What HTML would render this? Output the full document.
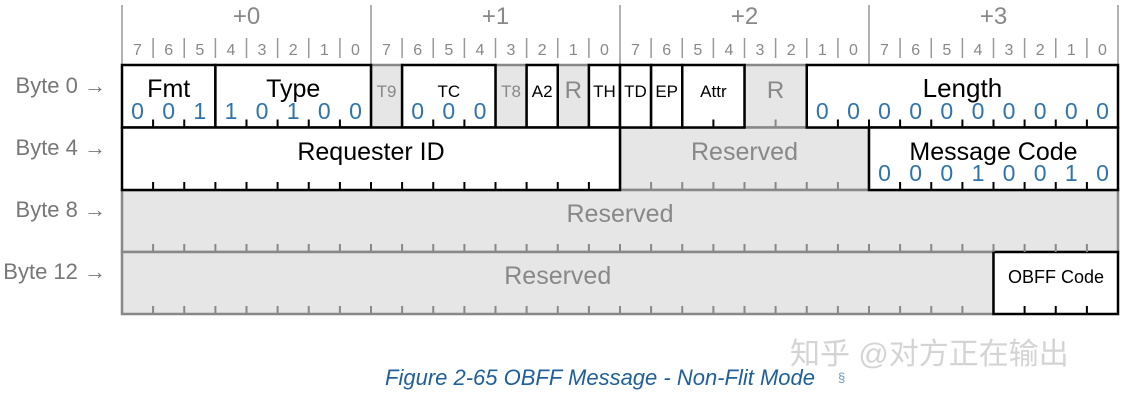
<!DOCTYPE html>
<html><head><meta charset="utf-8"><style>
html,body{margin:0;padding:0;background:#fff;width:1124px;height:403px;overflow:hidden}
svg{display:block}
text{font-family:"Liberation Sans","Noto Sans CJK SC",sans-serif}
</style></head><body>
<svg width="1124" height="403" viewBox="0 0 1124 403" xmlns="http://www.w3.org/2000/svg">
<g stroke="#999" stroke-width="1.5">
<line x1="122" y1="5" x2="122" y2="65"/><line x1="371" y1="5" x2="371" y2="65"/><line x1="620" y1="5" x2="620" y2="65"/><line x1="869" y1="5" x2="869" y2="65"/><line x1="1118" y1="5" x2="1118" y2="65"/>
<path d="M153.1 38v20M184.25 38v20M215.4 38v20M246.5 38v20M277.6 38v20M308.75 38v20M339.9 38v20M402.1 38v20M433.25 38v20M464.4 38v20M495.5 38v20M526.6 38v20M557.75 38v20M588.9 38v20M651.1 38v20M682.25 38v20M713.4 38v20M744.5 38v20M775.6 38v20M806.75 38v20M837.9 38v20M900.1 38v20M931.25 38v20M962.4 38v20M993.5 38v20M1024.6 38v20M1055.75 38v20M1086.9 38v20"/>
</g>
<g fill="#888" font-size="24" text-anchor="middle">
<text x="246.5" y="24">+0</text><text x="495.5" y="24">+1</text><text x="744.5" y="24">+2</text><text x="993.5" y="24">+3</text>
</g>
<g fill="#888" font-size="16" text-anchor="middle">
<text x="137.5" y="55">7</text><text x="168.7" y="55">6</text><text x="199.8" y="55">5</text><text x="231" y="55">4</text><text x="262" y="55">3</text><text x="293.2" y="55">2</text><text x="324.3" y="55">1</text><text x="355.5" y="55">0</text>
<text x="386.5" y="55">7</text><text x="417.7" y="55">6</text><text x="448.8" y="55">5</text><text x="480" y="55">4</text><text x="511" y="55">3</text><text x="542.2" y="55">2</text><text x="573.3" y="55">1</text><text x="604.5" y="55">0</text>
<text x="635.5" y="55">7</text><text x="666.7" y="55">6</text><text x="697.8" y="55">5</text><text x="729" y="55">4</text><text x="760" y="55">3</text><text x="791.2" y="55">2</text><text x="822.3" y="55">1</text><text x="853.5" y="55">0</text>
<text x="884.5" y="55">7</text><text x="915.7" y="55">6</text><text x="946.8" y="55">5</text><text x="978" y="55">4</text><text x="1009" y="55">3</text><text x="1040.2" y="55">2</text><text x="1071.3" y="55">1</text><text x="1102.5" y="55">0</text>
</g>
<g fill="#e6e6e6" stroke="#888" stroke-width="2.5">
<rect x="371" y="65" width="31.1" height="62.5"/>
<rect x="495.5" y="65" width="31.1" height="62.5"/>
<rect x="557.75" y="65" width="31.15" height="62.5"/>
<rect x="744.5" y="65" width="62.25" height="62.5"/>
<rect x="620" y="127.5" width="249" height="62.5"/>
<rect x="122" y="190" width="996" height="62"/>
<rect x="122" y="252" width="871.5" height="62"/>
</g>
<g fill="#fff" stroke="#000" stroke-width="2.5">
<rect x="122" y="65" width="93.4" height="62.5"/>
<rect x="215.4" y="65" width="155.6" height="62.5"/>
<rect x="402.1" y="65" width="93.4" height="62.5"/>
<rect x="526.6" y="65" width="31.15" height="62.5"/>
<rect x="588.9" y="65" width="31.1" height="62.5"/>
<rect x="620" y="65" width="31.1" height="62.5"/>
<rect x="651.1" y="65" width="31.15" height="62.5"/>
<rect x="682.25" y="65" width="62.25" height="62.5"/>
<rect x="806.75" y="65" width="311.25" height="62.5"/>
<rect x="122" y="127.5" width="498" height="62.5"/>
<rect x="869" y="127.5" width="249" height="62.5"/>
<rect x="993.5" y="252" width="124.5" height="62"/>
</g>
<g stroke="#000" stroke-width="2">
<path d="M153.1 119.5v8M184.25 119.5v8M246.5 119.5v8M277.6 119.5v8M308.75 119.5v8M339.9 119.5v8M433.25 119.5v8M464.4 119.5v8M713.4 119.5v8M837.9 119.5v8M869 119.5v8M900.1 119.5v8M931.25 119.5v8M962.4 119.5v8M993.5 119.5v8M1024.6 119.5v8M1055.75 119.5v8M1086.9 119.5v8"/>
<path d="M153.1 182v8M184.25 182v8M215.4 182v8M246.5 182v8M277.6 182v8M308.75 182v8M339.9 182v8M371 182v8M402.1 182v8M433.25 182v8M464.4 182v8M495.5 182v8M526.6 182v8M557.75 182v8M588.9 182v8M900.1 182v8M931.25 182v8M962.4 182v8M993.5 182v8M1024.6 182v8M1055.75 182v8M1086.9 182v8"/>
<path d="M1024.6 306v8M1055.75 306v8M1086.9 306v8"/>
</g>
<g stroke="#888" stroke-width="2">
<path d="M775.6 119.5v8M651.1 182v8M682.25 182v8M713.4 182v8M744.5 182v8M775.6 182v8M806.75 182v8M837.9 182v8"/>
<path d="M153.1 244v8M184.25 244v8M215.4 244v8M246.5 244v8M277.6 244v8M308.75 244v8M339.9 244v8M371 244v8M402.1 244v8M433.25 244v8M464.4 244v8M495.5 244v8M526.6 244v8M557.75 244v8M588.9 244v8M620 244v8M651.1 244v8M682.25 244v8M713.4 244v8M744.5 244v8M775.6 244v8M806.75 244v8M837.9 244v8M869 244v8M900.1 244v8M931.25 244v8M962.4 244v8M993.5 244v8M1024.6 244v8M1055.75 244v8M1086.9 244v8"/>
<path d="M153.1 306v8M184.25 306v8M215.4 306v8M246.5 306v8M277.6 306v8M308.75 306v8M339.9 306v8M371 306v8M402.1 306v8M433.25 306v8M464.4 306v8M495.5 306v8M526.6 306v8M557.75 306v8M588.9 306v8M620 306v8M651.1 306v8M682.25 306v8M713.4 306v8M744.5 306v8M775.6 306v8M806.75 306v8M837.9 306v8M869 306v8M900.1 306v8M931.25 306v8M962.4 306v8"/>
</g>
<g fill="#000" text-anchor="middle">
<text x="168.7" y="97" font-size="25">Fmt</text>
<text x="293.2" y="97" font-size="25">Type</text>
<text x="448.8" y="97" font-size="17">TC</text>
<text x="542.2" y="97" font-size="17">A2</text>
<text x="604.5" y="97" font-size="17">TH</text>
<text x="635.5" y="97" font-size="17">TD</text>
<text x="666.7" y="97" font-size="17">EP</text>
<text x="713.4" y="97" font-size="17">Attr</text>
<text x="962.4" y="97" font-size="26">Length</text>
<text x="371" y="160" font-size="25">Requester ID</text>
<text x="993.5" y="160" font-size="25">Message Code</text>
<text x="1056" y="283" font-size="18">OBFF Code</text>
</g>
<g fill="#888" text-anchor="middle">
<text x="386.5" y="97" font-size="17">T9</text>
<text x="511" y="97" font-size="17">T8</text>
<text x="573.3" y="98" font-size="24">R</text>
<text x="775.6" y="98" font-size="24">R</text>
<text x="744.5" y="160" font-size="25">Reserved</text>
<text x="620" y="222" font-size="25">Reserved</text>
<text x="557.75" y="284" font-size="25">Reserved</text>
</g>
<g fill="#2f74ad" font-size="23" text-anchor="middle">
<text x="137.5" y="119">0</text><text x="168.7" y="119">0</text><text x="199.8" y="119">1</text>
<text x="231" y="119">1</text><text x="262" y="119">0</text><text x="293.2" y="119">1</text><text x="324.3" y="119">0</text><text x="355.5" y="119">0</text>
<text x="417.7" y="119">0</text><text x="448.8" y="119">0</text><text x="480" y="119">0</text>
<text x="822.3" y="119">0</text><text x="853.5" y="119">0</text><text x="884.5" y="119">0</text><text x="915.7" y="119">0</text><text x="946.8" y="119">0</text><text x="978" y="119">0</text><text x="1009" y="119">0</text><text x="1040.2" y="119">0</text><text x="1071.3" y="119">0</text><text x="1102.5" y="119">0</text>
<text x="884.5" y="181">0</text><text x="915.7" y="181">0</text><text x="946.8" y="181">0</text><text x="978" y="181">1</text><text x="1009" y="181">0</text><text x="1040.2" y="181">0</text><text x="1071.3" y="181">1</text><text x="1102.5" y="181">0</text>
</g>
<g fill="#777" font-size="22" text-anchor="end">
<text x="106" y="93">Byte 0 →</text>
<text x="106" y="155">Byte 4 →</text>
<text x="106" y="217">Byte 8 →</text>
<text x="106" y="279">Byte 12 →</text>
</g>
<text x="790" y="364" font-size="30" fill="#d4d4d4" font-family="'Noto Sans CJK SC',sans-serif">知乎 @对方正在输出</text>
<text x="600" y="385" font-size="22" fill="#1f5f9a" font-style="italic" text-anchor="middle">Figure 2-65 OBFF Message - Non-Flit Mode</text>
<text x="838" y="382" font-size="13" fill="#6a9cc6">§</text>
</svg>
</body></html>
